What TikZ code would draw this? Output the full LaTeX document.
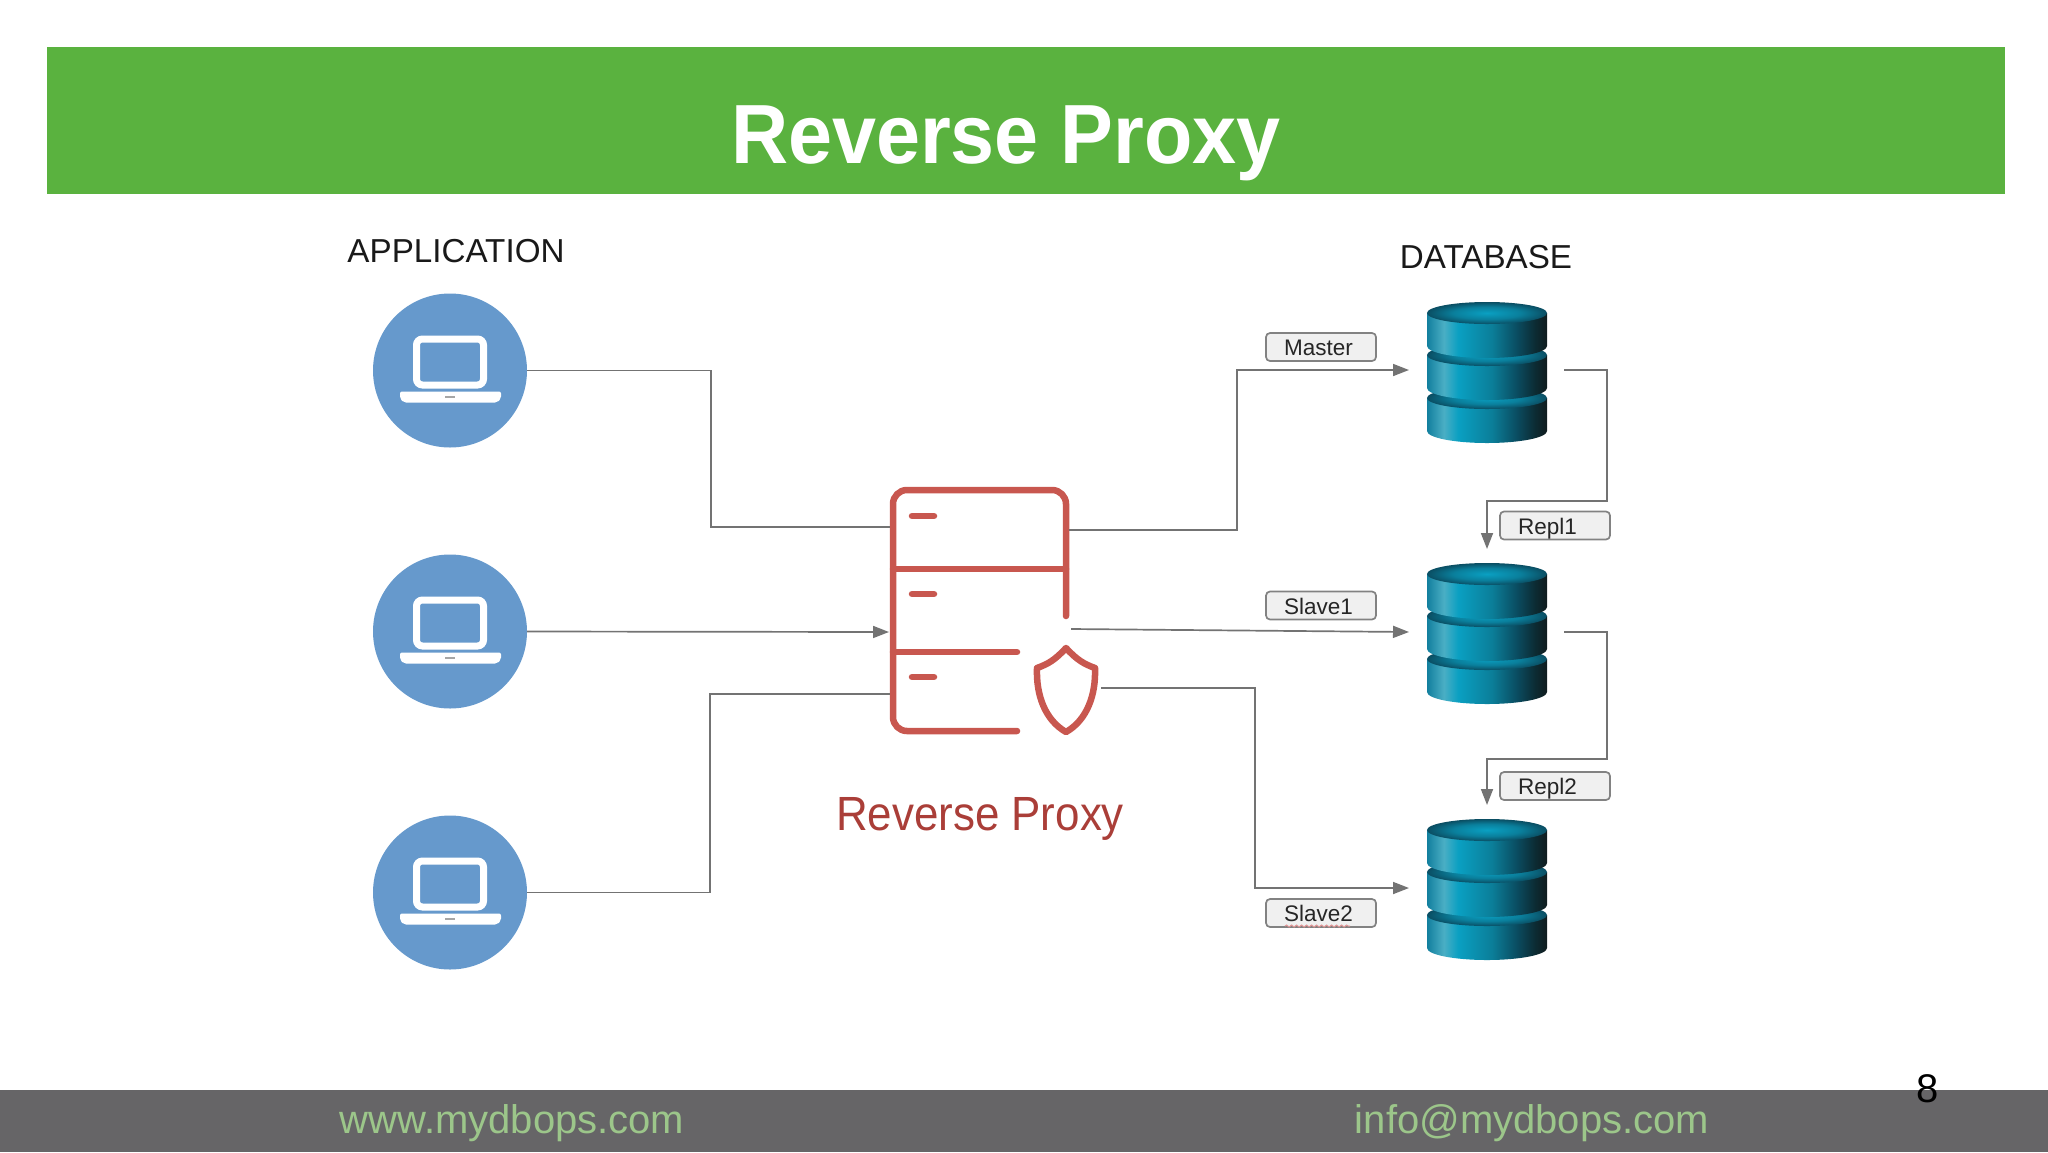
\documentclass[tikz,border=0pt]{standalone}
\usepackage{xcolor}
\usepackage{fontspec}
\setmainfont{Liberation Sans}
\usetikzlibrary{arrows.meta, positioning, calc, decorations.pathmorphing}
\definecolor{headerGreen}{RGB}{90, 178, 63}
\definecolor{footerGrey}{RGB}{102, 101, 103}
\definecolor{footerText}{RGB}{156, 198, 138}
\definecolor{laptopBlue}{RGB}{102, 153, 204}
\definecolor{proxyRed}{RGB}{200, 87, 79}
\definecolor{proxyText}{RGB}{170, 62, 56}
\definecolor{linkGrey}{RGB}{115, 115, 115}
\definecolor{tagFill}{RGB}{240, 240, 240}
\definecolor{tagEdge}{RGB}{130, 130, 130}
\definecolor{squiggleRed}{RGB}{225, 150, 150}
\definecolor{dbTopEdge}{RGB}{10, 78, 99}
\definecolor{dbTopMid}{RGB}{10, 160, 194}
\definecolor{dbLeft}{RGB}{18, 127, 158}
\definecolor{dbGlow}{RGB}{74, 174, 196}
\definecolor{dbBlue}{RGB}{11, 126, 153}
\definecolor{dbDeep}{RGB}{12, 43, 51}
\definecolor{dbBlack}{RGB}{16, 28, 30}
\pgfdeclarehorizontalshading{dbside}{100bp}{
    color(0bp)=(dbLeft);
    color(25bp)=(dbLeft);
    color(32bp)=(dbGlow);
    color(38bp)=(dbTopMid);
    color(52bp)=(dbBlue);
    color(62bp)=(dbTopEdge);
    color(70bp)=(dbDeep);
    color(75bp)=(dbBlack);
    color(100bp)=(dbBlack)
}
\pgfdeclareradialshading{dbcap}{\pgfpoint{0bp}{0bp}}{
    color(0bp)=(dbTopMid);
    color(14bp)=(dbTopMid!60!dbTopEdge);
    color(25bp)=(dbTopEdge);
    color(50bp)=(dbTopEdge)
}

\tikzset{
    appcircle/.style={
        circle,
        fill=laptopBlue,
        minimum size=154pt,
        inner sep=0pt
    },
    dbbox/.style={
        rectangle,
        minimum width=120pt,
        minimum height=140pt,
        inner sep=0pt
    },
    tagbox/.style={
        rectangle,
        rounded corners=4pt,
        draw=tagEdge,
        line width=1.7pt,
        fill=tagFill,
        text width=74pt,
        inner xsep=18pt,
        inner ysep=3pt,
        text height=19.5pt,
        text depth=2.5pt,
        align=left,
        text=black!85,
        font=\fontsize{22.5}{24}\selectfont
    },
    heading/.style={
        font=\fontsize{33.2}{36}\selectfont,
        text=black!90
    },
    footertext/.style={
        font=\fontsize{40}{44}\selectfont,
        text=footerText
    },
    link/.style={
        line width=1.7pt,
        color=linkGrey
    },
    arrowlink/.style={
        link,
        -{Triangle[length=16pt, width=12pt]}
    },
    proxyline/.style={
        line width=6.5pt,
        color=proxyRed,
        line cap=round
    },
    laptop/.pic={
        \draw[white, line width=7pt, rounded corners=6pt, fill=laptopBlue] (-33.5,-31.5) rectangle (33.5,14.5);
        \fill[white, rounded corners=2pt] (-50,21) -- (51,21) -- (51,28) -- (47,32) -- (-46,32) -- (-50,28) -- cycle;
        \fill[gray!70] (-5,25) rectangle (5,27);
    },
    dbstack/.pic={
        % lower disc first, upper discs lie on top of it
        \path[shading=dbside] (-60,26) -- (-60,59) arc[start angle=180, end angle=0, x radius=60, y radius=12] -- (60,26) -- cycle;
        \path[shading=dbcap] (0,26) ellipse[x radius=60, y radius=11];
        \path[shading=dbside] (-60,-17) -- (-60,16) arc[start angle=180, end angle=0, x radius=60, y radius=12] -- (60,-17) -- cycle;
        \path[shading=dbcap] (0,-17) ellipse[x radius=60, y radius=11];
        \path[shading=dbside] (-60,-59) -- (-60,-26) arc[start angle=180, end angle=0, x radius=60, y radius=12] -- (60,-59) -- cycle;
        \path[shading=dbcap] (0,-59) ellipse[x radius=60, y radius=11];
    }
}

\begin{document}
\begin{tikzpicture}[x=1pt, y=-1pt]
\useasboundingbox (0,0) rectangle (2048,1152);

% Header band
\node[fill=headerGreen, minimum width=1958pt, minimum height=147pt, inner sep=0pt] (header) at (1026,120.5) {};
\node[font=\bfseries\fontsize{84}{90}\selectfont, text=white, anchor=base] (title) at (1006,163) {\scalebox{0.942}[1]{Reverse Proxy}};

% Footer band
\node[fill=footerGrey, minimum width=2048pt, minimum height=62pt, inner sep=0pt] (footer) at (1024,1121) {};
\node[footertext] (site) at (512,1123) {www.mydbops.com};
\node[footertext] (mail) at (1532,1123) {info@mydbops.com};
\node[font=\fontsize{40}{44}\selectfont, text=black] (page) at (1928,1089) {8};

% Column headings
\node[heading] (apphead) at (456,251) {APPLICATION};
\node[heading] (dbhead) at (1486,257) {DATABASE};

% Application nodes
\node[appcircle] (app1) at (450,370.5) {};
\node[appcircle] (app2) at (450,631.5) {};
\node[appcircle] (app3) at (450,892.5) {};
\pic at (app1) {laptop};
\pic at (app2) {laptop};
\pic at (app3) {laptop};

% Database nodes
\node[dbbox] (db1) at (1487,372) {};
\node[dbbox] (db2) at (1487,633) {};
\node[dbbox] (db3) at (1487,889) {};
\pic at (db1) {dbstack};
\pic at (db2) {dbstack};
\pic at (db3) {dbstack};

% Proxy icon
\draw[proxyline, rounded corners=14pt] (1017,731) -- (893,731) -- (893,490) -- (1066,490) -- (1066,616);
\draw[proxyline] (893,569) -- (1066,569);
\draw[proxyline] (893,652) -- (1017,652);
\draw[proxyline] (912,516) -- (934,516);
\draw[proxyline] (912,594) -- (934,594);
\draw[proxyline] (912,677) -- (934,677);
\draw[proxyline, line join=round] (1066,648) .. controls (1055,660) and (1048,664) .. (1037,668) .. controls (1036,695) and (1045,720) .. (1066,732) .. controls (1087,720) and (1096,695) .. (1095,668) .. controls (1084,664) and (1077,660) .. (1066,648) -- cycle;
\node[font=\fontsize{48}{52}\selectfont, text=proxyText] (proxylabel) at (980,819) {\scalebox{0.915}[1]{Reverse Proxy}};

% Connector ends at the proxy icon
\coordinate (in1) at (890,527);
\coordinate (in2) at (889,632);
\coordinate (in3) at (890,694);
\coordinate (out1) at (1069,530);
\coordinate (out2) at (1071,629);
\coordinate (out3) at (1101,688);
\coordinate (bendin1) at (711,527);
\coordinate (bendin3) at (710,694);
\coordinate (bendout1) at (1237,530);
\coordinate (bendout3) at (1255,688);

% Connector ends at the database stacks
\coordinate (dbin1) at (1409,370);
\coordinate (dbin2) at (1409,632);
\coordinate (dbin3) at (1409,888);
\coordinate (dbout1) at (1564,370);
\coordinate (dbout2) at (1564,632);
\coordinate (dbrepl1) at (1487,501);
\coordinate (dbrepl2) at (1487,759);
\coordinate (dbtop2) at (1487,549);
\coordinate (dbtop3) at (1487,805);
\coordinate (rise1) at (1607,501);
\coordinate (rise2) at (1607,759);

% Arrows
\draw[link] (app1.east) -| (bendin1) -- (in1);
\draw[arrowlink] (app2.east) -- (in2);
\draw[link] (app3.east) -| (bendin3) -- (in3);
\draw[arrowlink] (out1) -- (bendout1) |- (dbin1);
\draw[arrowlink] (out2) -- (dbin2);
\draw[arrowlink] (out3) -- (bendout3) |- (dbin3);
\draw[arrowlink] (dbout1) -| (rise1) -- (dbrepl1) -- (dbtop2);
\draw[arrowlink] (dbout2) -| (rise2) -- (dbrepl2) -- (dbtop3);

% Tags
\node[tagbox] (master) at (1321,347) {Master};
\node[tagbox] (slave1) at (1321,605.5) {Slave1};
\node[tagbox] (slave2) at (1321,913) {Slave2};
\node[tagbox] (repl1) at (1555,525.5) {Repl1};
\node[tagbox] (repl2) at (1555,786) {Repl2};

% Spelling mark under Slave2
\coordinate (markstart) at (1285,926);
\coordinate (markend) at (1350,926);
\draw[squiggleRed, line width=1pt, decorate, decoration={snake, amplitude=1pt, segment length=5pt}] (markstart) -- (markend);

\end{tikzpicture}
\end{document}
